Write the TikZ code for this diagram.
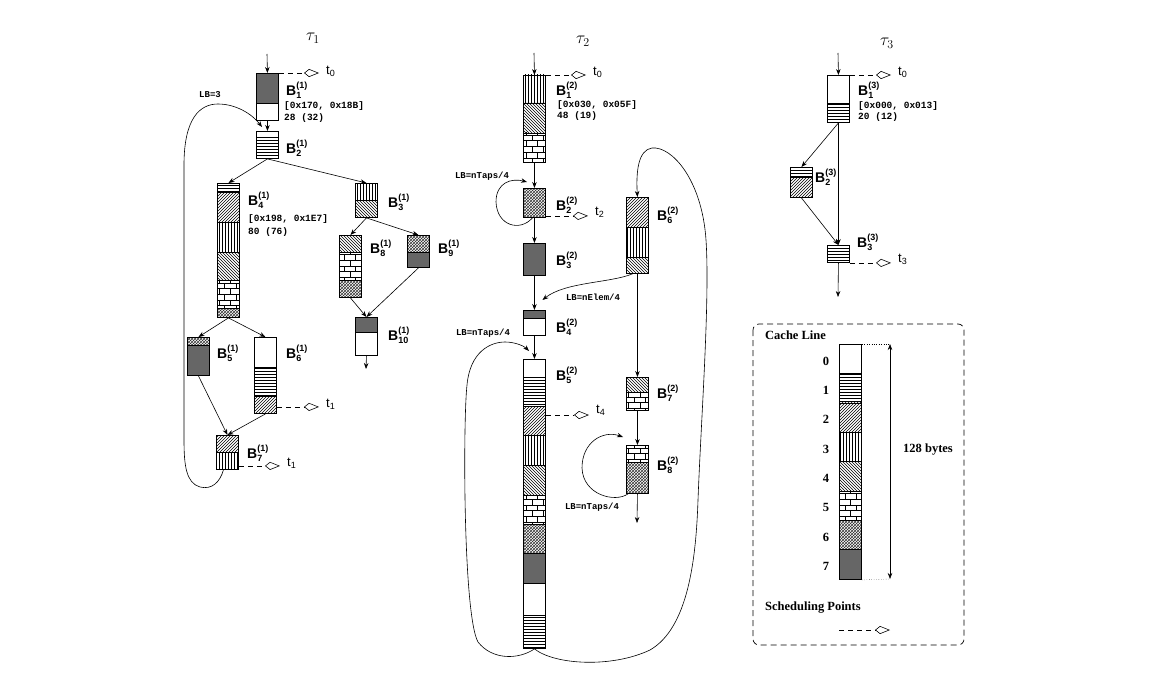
\documentclass[tikz,border=0pt]{standalone}
\usepackage{fontspec}
\setmainfont{Liberation Serif}
\setsansfont{Liberation Sans}
\setmonofont{Liberation Mono}
\usetikzlibrary{arrows.meta,patterns,positioning}

\tikzset{
  c0/.style={fill=white},
  c1/.style={pattern=horizontal lines},
  c2/.style={pattern=north east lines},
  c3/.style={pattern=vertical lines},
  c4/.style={pattern=north west lines},
  c5/.style={pattern=bricks},
  c6/.style={pattern=crosshatch,pattern color=black!80},
  c7/.style={fill=black!60},
  seg/.style={draw,line width=0.4pt},
  blk/.style={draw,line width=0.9pt,anchor=north west,inner sep=0pt,minimum width=22pt},
  lbl/.style={anchor=west,inner sep=0pt,font=\sffamily\bfseries\fontsize{14}{14}\selectfont},
  adr/.style={anchor=west,inner sep=0pt,font=\ttfamily\bfseries\fontsize{9.5}{10}\selectfont},
  lb/.style={inner sep=0pt,font=\ttfamily\bfseries\fontsize{9}{9}\selectfont},
  tlab/.style={anchor=west,inner sep=0pt,font=\sffamily\fontsize{13}{13}\selectfont},
  tau/.style={inner sep=0pt,font=\fontsize{18}{18}\selectfont},
  key/.style={inner sep=0pt,font=\bfseries\fontsize{12.5}{13}\selectfont},
  flow/.style={line width=0.6pt,-{Stealth[length=6pt,width=4.5pt]}},
  sched/.style={line width=0.6pt,dash pattern=on 5pt off 4pt,
    -{Kite[open,length=15pt,width=8pt,inset=5pt]},shorten >=7pt},
}

% block of cache line pieces: name, x, top, bottom, pieces
\newcommand{\cacheblock}[5]{%
  \foreach \ya/\yb/\cl in {#5}
    \draw[seg,\cl] (#2,\ya) rectangle (#2+22,\yb);
  \pgfmathsetmacro\hgt{#4-#3}
  \node[blk,minimum height=\hgt pt] (#1) at (#2,#3) {};}
\newcommand{\bname}[2]{B$^{\textsf{\fontsize{9}{9}\selectfont(#1)}}_{\textsf{\fontsize{9}{9}\selectfont #2}}$}
\newcommand{\tsub}[1]{t$_{\textsf{\fontsize{9}{9}\selectfont #1}}$}

\begin{document}
\begin{tikzpicture}[x=1pt,y=-1pt]
\useasboundingbox (0,0) rectangle (1159,690);

% tau 1
\node[tau] (tau1) at (313,38) {$\tau_1$};
\coordinate (in1) at (267,54);
\cacheblock{b1a}{256}{73}{120}{73/103/c7, 103/120/c0}
\cacheblock{b2a}{256}{131}{158}{131/137/c0, 137/158/c1}
\cacheblock{b3a}{355}{183}{217}{183/200/c3, 200/217/c4}
\cacheblock{b4a}{217}{183}{317}{183/192/c1, 192/222/c2, 222/252/c3, 252/280/c4, 280/308/c5, 308/317/c6}
\cacheblock{b5a}{187}{337}{375}{337/345/c6, 345/375/c7}
\cacheblock{b6a}{254}{337}{413}{337/367/c0, 367/396/c1, 396/413/c2}
\cacheblock{b7a}{216}{435}{469}{435/452/c2, 452/469/c3}
\cacheblock{b8a}{339}{235}{297}{235/252/c4, 252/280/c5, 280/297/c6}
\cacheblock{b9a}{407}{235}{267}{235/252/c6, 252/267/c7}
\cacheblock{b10a}{355}{317}{355}{317/332/c7, 332/355/c0}
\coordinate (out1) at (366,369);

\node[lbl] (n1a) at (286,90) {\bname{1}{1}};
\node[adr] (a1a) at (284,106) {[0x170, 0x18B]};
\node[adr] (s1a) at (284,118) {28 (32)};
\node[lbl] (n2a) at (286,148) {\bname{1}{2}};
\node[lbl] (n3a) at (388,202) {\bname{1}{3}};
\node[lbl] (n4a) at (248,200) {\bname{1}{4}};
\node[adr] (a4a) at (248,219) {[0x198, 0x1E7]};
\node[adr] (s4a) at (248,232) {80 (76)};
\node[lbl] (n5a) at (217,353) {\bname{1}{5}};
\node[lbl] (n6a) at (286,353) {\bname{1}{6}};
\node[lbl] (n7a) at (247,453) {\bname{1}{7}};
\node[lbl] (n8a) at (370,248) {\bname{1}{8}};
\node[lbl] (n9a) at (438,248) {\bname{1}{9}};
\node[lbl] (n10a) at (388,335) {\bname{1}{10}};

\draw[flow] (in1) -- (b1a.north);
\draw[flow] (b1a.south) -- (b2a.north);
\draw[flow] (b2a.south) -- (b4a.north);
\draw[flow] (b2a.south) -- (b3a.north);
\draw[flow] (b4a.south) -- (b5a.north);
\draw[flow] (b4a.south) -- (b6a.north);
\draw[flow] (b5a.south) -- (b7a.north);
\draw[flow] (b6a.south) -- (b7a.north);
\draw[flow] (b3a.south) -- (b8a.north);
\draw[flow] (b3a.south) -- (b9a.north);
\draw[flow] (b8a.south) -- (b10a.north);
\draw[flow] (b9a.south) -- (b10a.north);
\draw[flow] (b10a.south) -- (out1);

\node[lb] (lb1) at (210,95) {LB=3};
\draw[flow] ([xshift=-4pt]b7a.south) .. controls (220,482) and (212,490) .. (200,487)
  .. controls (186,483) and (184,465) .. (184,440) -- (184,165)
  .. controls (184,118) and (200,104) .. (218,104)
  .. controls (236,104) and (252,114) .. ([xshift=6pt,yshift=4pt]b2a.north west);

\node[tlab] (t0a) at (326,71) {\tsub{0}};
\node[tlab] (t1a) at (326,404) {\tsub{1}};
\node[tlab] (t1b) at (287,463) {\tsub{1}};
\coordinate (p6a) at ([yshift=7pt]b6a.south east);
\coordinate (p7a) at ([yshift=4pt]b7a.south east);
\draw[sched] (b1a.north east) -- (b1a.north east -| t0a.west);
\draw[sched] (p6a) -- (p6a -| t1a.west);
\draw[sched] (p7a) -- (p7a -| t1b.west);

% tau 2
\node[tau] (tau2) at (583,41) {$\tau_2$};
\coordinate (in2) at (534,53);
\cacheblock{b1b}{523}{75}{162}{75/103/c3, 103/133/c4, 133/162/c5}
\cacheblock{b2b}{523}{188}{217}{188/217/c6}
\cacheblock{b3b}{523}{243}{275}{243/275/c7}
\cacheblock{b4b}{523}{310}{335}{310/318/c7, 318/335/c0}
\cacheblock{b5b}{523}{359}{648}{359/377/c0, 377/406/c1, 406/435/c2, 435/465/c3, 465/495/c4, 495/524/c5, 524/553/c6, 553/583/c7, 583/615/c0, 615/648/c1}
\cacheblock{b6b}{626}{197}{273}{197/227/c2, 227/257/c3, 257/273/c4}
\cacheblock{b7b}{626}{377}{410}{377/392/c4, 392/410/c5}
\cacheblock{b8b}{626}{445}{493}{445/462/c5, 462/493/c6}
\coordinate (out2) at (637,523);

\node[lbl] (n1b) at (556,90) {\bname{2}{1}};
\node[adr] (a1b) at (557,105) {[0x030, 0x05F]};
\node[adr] (s1b) at (557,116) {48 (19)};
\node[lbl] (n2b) at (556,205) {\bname{2}{2}};
\node[lbl] (n3b) at (556,260) {\bname{2}{3}};
\node[lbl] (n4b) at (556,327) {\bname{2}{4}};
\node[lbl] (n5b) at (556,375) {\bname{2}{5}};
\node[lbl] (n6b) at (657,215) {\bname{2}{6}};
\node[lbl] (n7b) at (657,393) {\bname{2}{7}};
\node[lbl] (n8b) at (657,465) {\bname{2}{8}};

\draw[flow] (in2) -- (b1b.north);
\draw[flow] (b1b.south) -- (b2b.north);
\draw[flow] (b2b.south) -- (b3b.north);
\draw[flow] (b3b.south) -- (b4b.north);
\draw[flow] (b4b.south) -- (b5b.north);
\draw[flow] (b6b.south) -- (b7b.north);
\draw[flow] (b7b.south) -- (b8b.north);
\draw[flow] (b8b.south) -- (out2);

\node[lb] (lb2) at (482,176) {LB=nTaps/4};
\draw[flow] ([xshift=-2pt]b2b.south) .. controls (520,232) and (497,226) .. (496,202)
  .. controls (496,182) and (512,178) .. ([xshift=4pt,yshift=6pt]b2b.north west);
\node[lb] (lb3) at (593,297) {LB=nElem/4};
\draw[flow] ([xshift=-5pt]b6b.south) .. controls (610,283) and (565,282) .. ([xshift=8pt,yshift=10pt]b4b.north);
\node[lb] (lb4) at (483,333) {LB=nTaps/4};
\draw[flow] (b5b.south) .. controls (518,660) and (492,660) .. (478,642)
  .. controls (463,615) and (463,420) .. (467,385)
  .. controls (470,352) and (490,342) .. (505,342)
  .. controls (515,342) and (524,346) .. ([xshift=6pt,yshift=8pt]b5b.north west);
\draw[flow] (b5b.south) .. controls (555,665) and (612,668) .. (650,650)
  .. controls (688,628) and (696,560) .. (698,500)
  .. controls (701,420) and (710,300) .. (706,240)
  .. controls (702,180) and (672,146) .. (652,148)
  .. controls (638,150) and (636,172) .. (b6b.north);
\node[lb] (lb5) at (592,507) {LB=nTaps/4};
\draw[flow] ([xshift=2pt]b8b.south west) .. controls (615,503) and (583,495) .. (582,468)
  .. controls (582,442) and (603,430) .. ([xshift=-3pt,yshift=8pt]b8b.north west);

\node[tlab] (t0b) at (593,72) {\tsub{0}};
\node[tlab] (t2b) at (595,212) {\tsub{2}};
\node[tlab] (t4b) at (596,410) {\tsub{4}};
\coordinate (p2b) at ([yshift=2pt]b2b.south east);
\coordinate (p5b) at ([yshift=-56pt]b5b.north east);
\draw[sched] (b1b.north east) -- (b1b.north east -| t0b.west);
\draw[sched] (p2b) -- (p2b -| t2b.west);
\draw[sched] (p5b) -- (p5b -| t4b.west);

% tau 3
\node[tau] (tau3) at (887,43) {$\tau_3$};
\coordinate (in3) at (838,53);
\cacheblock{b1c}{827}{75}{122}{75/103/c0, 103/122/c1}
\cacheblock{b2c}{790}{167}{197}{167/177/c1, 177/197/c2}
\cacheblock{b3c}{827}{245}{262}{245/262/c1}
\coordinate (out3) at (838,297);

\node[lbl] (n1c) at (858,90) {\bname{3}{1}};
\node[adr] (a1c) at (858,106) {[0x000, 0x013]};
\node[adr] (s1c) at (858,117) {20 (12)};
\node[lbl] (n2c) at (815,177) {\bname{3}{2}};
\node[lbl] (n3c) at (857,242) {\bname{3}{3}};

\draw[flow] (in3) -- (b1c.north);
\draw[flow] (b1c.south) -- (b2c.north);
\draw[flow] (b1c.south) -- (b3c.north);
\draw[flow] (b2c.south) -- (b3c.north);
\draw[flow] (b3c.south) -- (out3);

\node[tlab] (t0c) at (898,72) {\tsub{0}};
\node[tlab] (t3c) at (898,259) {\tsub{3}};
\draw[sched] (b1c.north east) -- (b1c.north east -| t0c.west);
\draw[sched] (b3c.south east) -- (b3c.south east -| t3c.west);

% legend
\draw[line width=0.7pt,dash pattern=on 6pt off 4pt,rounded corners=6pt] (753,324) rectangle (964,645);
\node[key,anchor=west] (cline) at (765,335) {Cache Line};
\foreach \i in {0,...,7} {
  \pgfmathsetmacro\ya{344+29.375*\i}
  \pgfmathsetmacro\yb{344+29.375*(\i+1)}
  \draw[seg,c\i] (839,\ya) rectangle (861,\yb);
  \node[key] (k\i) at (826,{\ya+17}) {\i};
}
\node[blk,minimum height=235pt] (cl) at (839,344) {};
\coordinate (d1) at (890,344);
\coordinate (d2) at (890,579);
\draw[dotted] (cl.north east) -- (d1);
\draw[dotted] (cl.south east) -- (d2);
\draw[line width=0.6pt,{Stealth[length=6pt,width=4.5pt]}-{Stealth[length=6pt,width=4.5pt]}] (d1) -- (d2);
\node[key,anchor=west] (bytes) at (903,450) {128 bytes};
\node[key,anchor=west] (spts) at (765,608) {Scheduling Points};
\coordinate (sp1) at (839,630);
\coordinate (sp2) at (890,630);
\draw[sched,shorten >=0pt] (sp1) -- (sp2);
\end{tikzpicture}
\end{document}
